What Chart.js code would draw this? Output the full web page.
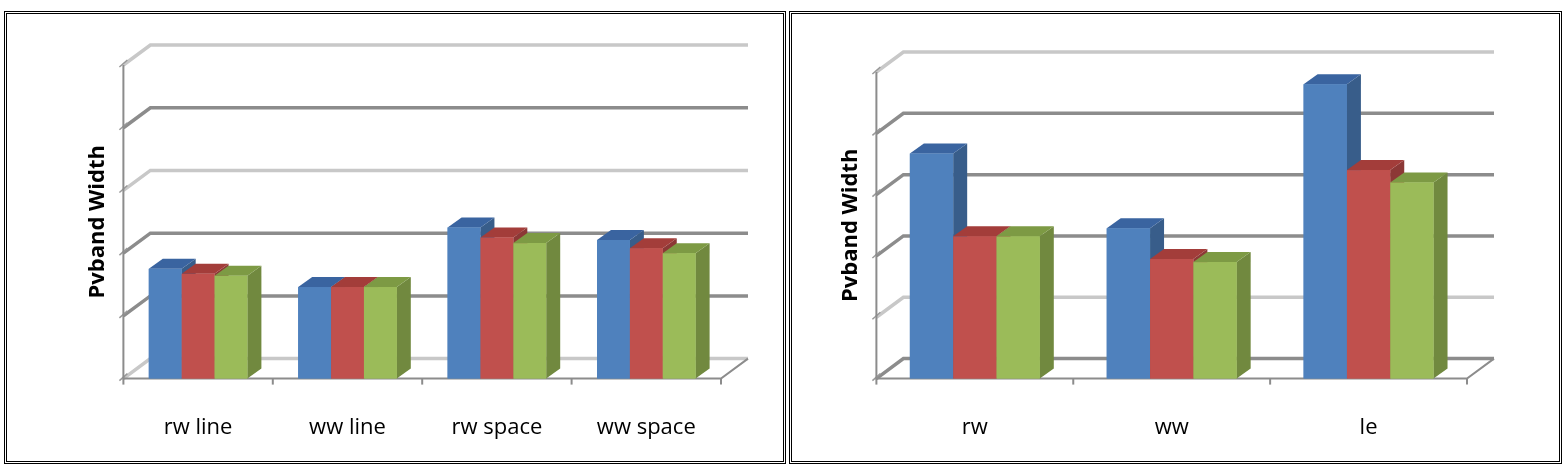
<!DOCTYPE html>
<html><head><meta charset="utf-8">
<script src="https://cdn.jsdelivr.net/npm/chart.js@4"></script>
<style>
body{margin:0;background:#fff;width:1566px;height:465px;position:relative;font-family:'Open Sans'}
.box{position:absolute;border:3px double #000;box-sizing:border-box}
</style></head><body>
<div class="box" style="left:4px;top:11px;width:782px;height:453px"><canvas id="c1"></canvas></div>
<div class="box" style="left:789px;top:11px;width:773px;height:453px"><canvas id="c2"></canvas></div>
<script>
const catsA=['rw line','ww line','rw space','ww space'];
const blueA=[1.75,1.46,2.41,2.21];
const redA=[1.67,1.46,2.25,2.08];
const greenA=[1.64,1.46,2.16,2.00];
const catsB=['rw','ww','le'];
const blueB=[3.67,2.45,4.8];
const redB=[2.32,1.95,3.4];
const greenB=[2.32,1.9,3.2];
const gridColsA=['#c8c8c8','#8c8c8c','#8c8c8c','#c8c8c8','#8c8c8c','#c8c8c8'];
const gridColsB=['#8c8c8c','#c8c8c8','#8c8c8c','#8c8c8c','#8c8c8c','#c8c8c8'];
const fills=['#4f81bd','#c0504d','#9bbb59'];
const sides=['#385d8a','#8c3836','#71893f'];
const tops=['#3a64a0','#a33d3a','#7d9a44'];
const DX=27,DY=20,BX=14,BY=10;
function plug(gcols){return{id:'p3d',
beforeDatasetsDraw(ch){const c=ch.ctx,a=ch.chartArea,y=ch.scales.y,x=ch.scales.x;c.save();
 for(let v=0;v<=5;v++){const py=y.getPixelForValue(v);c.strokeStyle=gcols[v];c.lineWidth=3.5;
  c.beginPath();c.moveTo(a.left,py);c.lineTo(a.left+DX,py-DY);c.lineTo(a.right+DX,py-DY);c.stroke();
  c.strokeStyle='#999';c.lineWidth=1.5;c.beginPath();c.moveTo(a.left-4,py+2);c.lineTo(a.left+4,py-5);c.stroke();}
 c.strokeStyle='#8c8c8c';c.lineWidth=2;c.beginPath();c.moveTo(a.left,a.top);c.lineTo(a.left,a.bottom);c.lineTo(a.right,a.bottom);c.lineTo(a.right+DX,a.bottom-DY);c.stroke();
 const n=ch.data.labels.length,w=(a.right-a.left)/n;
 for(let i=0;i<=n;i++){const px=a.left+i*w;c.beginPath();c.moveTo(px,a.bottom);c.lineTo(px,a.bottom+6);c.stroke();}
 c.restore();},
afterDatasetsDraw(ch){const c=ch.ctx;c.save();const n=ch.data.labels.length;
 for(let i=0;i<n;i++){for(let d=0;d<3;d++){const e=ch.getDatasetMeta(d).data[i];
  const l=e.x-e.width/2,r=e.x+e.width/2,t=e.y,b=e.base;
  c.fillStyle=sides[d];c.beginPath();c.moveTo(r,t);c.lineTo(r+BX,t-BY);c.lineTo(r+BX,b-BY);c.lineTo(r,b);c.fill();
  c.fillStyle=tops[d];c.beginPath();c.moveTo(l,t);c.lineTo(l+BX,t-BY);c.lineTo(r+BX,t-BY);c.lineTo(r,t);c.fill();
  c.fillStyle=fills[d];c.fillRect(l,t,r-l,b-t);}}
 c.restore();}}}
function make(id,cats,b,r,g,pad,gcols){
 new Chart(document.getElementById(id),{type:'bar',
 data:{labels:cats,datasets:[{data:b,backgroundColor:fills[0]},{data:r,backgroundColor:fills[1]},{data:g,backgroundColor:fills[2]}]},
 options:{responsive:false,animation:false,events:[],layout:{padding:pad},
  plugins:{legend:{display:false},tooltip:{enabled:false}},
  datasets:{bar:{categoryPercentage:0.66,barPercentage:1}},
  scales:{x:{grid:{display:false},border:{display:false},ticks:{color:'#000',font:{size:22,family:'Open Sans'},padding:28}},
   y:{min:0,max:5,grid:{display:false},border:{display:false},ticks:{display:false},
    title:{display:true,text:'Pvband Width',color:'#000',font:{size:22,weight:'bold',family:'Open Sans'}}}}},
 plugins:[plug(gcols)]});}
const c1=document.getElementById('c1');c1.width=776;c1.height=447;
const c2=document.getElementById('c2');c2.width=767;c2.height=447;
make('c1',catsA,blueA,redA,greenA,{left:74,right:62,top:51,bottom:-8},gridColsA);
make('c2',catsB,blueB,redB,greenB,{left:42,right:92,top:58,bottom:-8},gridColsB);
</script></body></html>
